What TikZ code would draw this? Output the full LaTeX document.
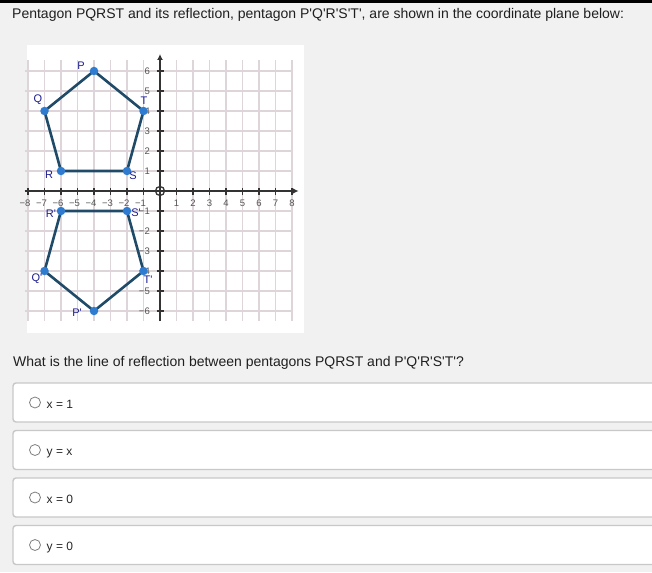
\documentclass[tikz,border=0pt]{standalone}
\usepackage{fontspec}
\newfontfamily\arial{Liberation Sans}
\usetikzlibrary{arrows.meta}
\definecolor{pagebg}{HTML}{F2F1F2}
\definecolor{gridc}{HTML}{DDD5DA}
\definecolor{axisc}{HTML}{333333}
\definecolor{edgec}{HTML}{1F4A68}
\definecolor{dotc}{HTML}{2E7BD0}
\definecolor{ptlab}{HTML}{1C1C8C}
\definecolor{ticklab}{HTML}{555555}
\definecolor{boxc}{HTML}{C8C8C8}
\definecolor{radioc}{HTML}{808080}
\tikzset{
  txt/.style={font=\arial\fontsize{14}{16}\selectfont, inner sep=0pt, anchor=base west, text=black!88},
  opttxt/.style={font=\arial\fontsize{12}{14}\selectfont, inner sep=0pt, anchor=base west, text=black!85},
  gridline/.style={draw=gridc, line width=1.1pt},
  axisline/.style={draw=axisc, line width=1.3pt},
  tickmark/.style={draw=axisc, line width=1.3pt},
  xlab/.style={font=\arial\fontsize{9.5}{10}\selectfont, text=ticklab, inner sep=0pt},
  ptname/.style={font=\arial\fontsize{11}{12}\selectfont, text=ptlab, inner sep=0pt},
  edgeline/.style={draw=edgec, line width=2.6pt, line join=round},
  dotnode/.style={circle, fill=dotc, inner sep=0pt, minimum size=8.5pt},
  optbox/.style={draw=boxc, fill=white, line width=1.4pt, rounded corners=3pt},
  radio/.style={draw=radioc, line width=0.8pt}
}
\begin{document}
\begin{tikzpicture}[x=1pt,y=-1pt]
\fill[pagebg] (0,0) rectangle (652,572);
\useasboundingbox (0,0) rectangle (652,572);
\fill[black] (0,0) rectangle (652,3.5);
\node[txt] (title) at (12,18.5) {Pentagon PQRST and its reflection, pentagon P'Q'R'S'T', are shown in the coordinate plane below:};
% panel
\fill[white] (27,45) rectangle (304,333);
\begin{scope}[xshift=160pt, yshift=-191pt, x=16.5pt, y=20pt]
  \foreach \i in {-8,...,8} \draw[gridline] (\i,-6.5) -- (\i,6.55);
  \foreach \j in {-6,...,6} \draw[gridline] (-8.2,\j) -- (8.05,\j);
  \draw[axisline,-{Latex[length=6pt,width=6pt]}] (-8.2,0) -- (8.4,0);
  \draw[axisline,-{Latex[length=6pt,width=6pt]}] (0,-6.5) -- (0,6.85);
  \foreach \i in {-8,...,-1,1,2,...,8} \draw[tickmark] (\i,0) ++(0,-3.5pt) -- ++(0,7pt);
  \foreach \j in {-6,...,-1,1,2,...,6} \draw[tickmark] (0,\j) ++(-3.5pt,0) -- ++(7pt,0);
  \draw[axisline] (0,0) circle[radius=4.5pt];
  \foreach \i in {1,...,8} \node[xlab] (xl\i) at (\i,-0.6) {\i};
  \foreach \i in {1,...,8} \node[xlab, anchor=east] (xn\i) at ([xshift=2.7pt]-\i,-0.6) {−\i};
  \foreach \j in {1,...,6} \node[xlab, anchor=east] (yl\j) at ([xshift=-10pt]0,\j) {\j};
  \foreach \j in {1,...,6} \node[xlab, anchor=east] (yn\j) at ([xshift=-10pt]0,-\j) {−\j};
  % pentagon
  \coordinate (P) at (-4,6);
  \coordinate (Q) at (-7,4);
  \coordinate (R) at (-6,1);
  \coordinate (S) at (-2,1);
  \coordinate (T) at (-1,4);
  \coordinate (P') at (-4,-6);
  \coordinate (Q') at (-7,-4);
  \coordinate (R') at (-6,-1);
  \coordinate (S') at (-2,-1);
  \coordinate (T') at (-1,-4);
  \draw[edgeline] (P) -- (Q) -- (R) -- (S) -- (T) -- cycle;
  \draw[edgeline] (P') -- (Q') -- (R') -- (S') -- (T') -- cycle;
  \foreach \v in {P,Q,R,S,T,P',Q',R',S',T'} \node[dotnode] (d\v) at (\v) {};
\end{scope}
% point labels
\node[ptname] (lP) at (81,66) {P};
\node[ptname] (lQ) at (38,100) {Q};
\node[ptname] (lR) at (49,175) {R};
\node[ptname] (lS) at (133,176) {S};
\node[ptname] (lT) at (144,101) {T};
\node[ptname] (lR') at (51,214) {R'};
\node[ptname] (lS') at (136,213) {S'};
\node[ptname] (lQ') at (37,279) {Q'};
\node[ptname] (lT') at (148,280) {T'};
\node[ptname] (lP') at (77,313) {P'};
% question
\node[txt] (question) at (13,366) {What is the line of reflection between pentagons PQRST and P'Q'R'S'T'?};
% options
\draw[optbox] (13,383) rectangle (670,422);
\draw[optbox] (13,430.5) rectangle (670,469.5);
\draw[optbox] (13,478) rectangle (670,517);
\draw[optbox] (13,525.5) rectangle (670,564.5);
\draw[radio] (35,402.5) circle[radius=5.5pt];
\draw[radio] (35,450) circle[radius=5.5pt];
\draw[radio] (35,497.5) circle[radius=5.5pt];
\draw[radio] (35,545) circle[radius=5.5pt];
\node[opttxt] (o1) at (46.5,408) {x = 1};
\node[opttxt] (o2) at (46.5,455.5) {y = x};
\node[opttxt] (o3) at (46.5,503) {x = 0};
\node[opttxt] (o4) at (46.5,550.5) {y = 0};
\end{tikzpicture}
\end{document}
